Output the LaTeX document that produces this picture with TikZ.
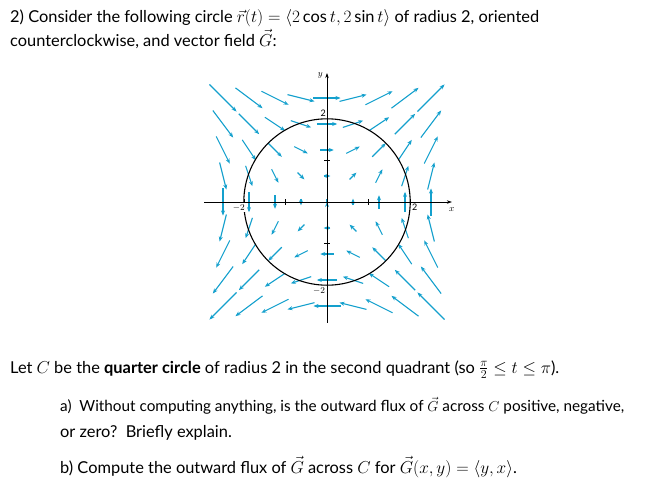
\documentclass[tikz,border=0pt]{standalone}
\usepackage{amsmath}
\usepackage{fontspec}
\setmainfont{Lato}
\usetikzlibrary{arrows.meta}
\definecolor{fieldblue}{RGB}{20,160,205}
\begin{document}
\begin{tikzpicture}[x=1pt,y=-1pt,
  txt/.style={anchor=base west,inner sep=0pt,font=\fontsize{16.4}{19}\selectfont},
  vec/.style={fieldblue,line width=1.1pt,-{Stealth[length=5pt,width=4pt]}},
  axis/.style={line width=0.5pt,-{Stealth[length=5pt,width=3.5pt]}},
  lab/.style={font=\fontsize{9}{10}\selectfont,inner sep=1pt}]
\useasboundingbox (0,0) rectangle (646,491);
\node[txt] (l1) at (10,22) {2) Consider the following circle $\vec r(t)=\langle 2\cos t,2\sin t\rangle$ of radius 2, oriented};
\node[txt] (l2) at (10,46) {counterclockwise, and vector field $\vec G$:};
\node[txt] (l3) at (10,373) {Let $C$ be the \textbf{quarter circle} of radius 2 in the second quadrant (so $\frac{\pi}{2}\le t\le\pi$).};
\node[txt,font=\fontsize{15.3}{19}\selectfont] (l4) at (60,411) {a)\ \ Without computing anything, is the outward flux of $\vec G$ across $C$ positive, negative,};
\node[txt] (l5) at (60,437) {or zero?\ \ Briefly explain.};
\node[txt] (l6) at (60,473) {b) Compute the outward flux of $\vec G$ across $C$ for $\vec G(x,y)=\langle y,x\rangle$.};
\begin{scope}[shift={(327,202)},x=41.6pt,y=41.6pt]
  \foreach \i in {-4,...,4}{
    \foreach \j in {-4,...,4}{
      \pgfmathsetmacro{\px}{\i*0.625}
      \pgfmathsetmacro{\py}{\j*0.625}
      \draw[vec] ({\px-0.13*\py},{\py-0.13*\px}) -- ({\px+0.13*\py},{\py+0.13*\px});
    }}
  \draw[axis] (-2.95,0) coordinate (xa) -- (3,0) coordinate (xb);
  \draw[axis] (0,-2.9) coordinate (ya) -- (0,3.1) coordinate (yb);
  \node[font=\small,anchor=north] (xl) at (3,-0.05) {$x$};
  \node[font=\small,anchor=east] (yl) at (-0.02,3.05) {$y$};
  \foreach \t in {-1,1}{\draw[line width=0.5pt] (\t,-0.07) -- (\t,0.07); \draw[line width=0.5pt] (-0.07,\t) -- (0.07,\t);}
  \draw[line width=0.5pt] (-2,-0.07) -- (-2,0.07); \draw[line width=0.5pt] (2,-0.07) -- (2,0.07);
  \draw[line width=1.1pt] (0,0) circle (2);
  \node[lab,fill=white,anchor=south east] (t1) at (0,2.02) {2};
  \node[lab,fill=white,anchor=north east] (t2) at (-1.95,-0.03) {$-2$};
  \node[lab,fill=white,anchor=north west] (t3) at (2.02,-0.03) {2};
  \node[lab,fill=white,anchor=north east] (t4) at (-0.02,-2.02) {$-2$};
\end{scope}
\end{tikzpicture}
\end{document}
